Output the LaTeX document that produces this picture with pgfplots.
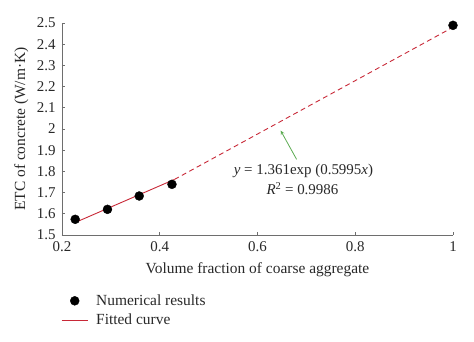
\documentclass[border=0pt]{standalone}
\usepackage{fontspec}
\setmainfont{Liberation Serif}
\usepackage{pgfplots}
\pgfplotsset{compat=1.18}
\definecolor{axgray}{RGB}{110,110,110}
\definecolor{txt}{RGB}{40,40,40}
\definecolor{fitred}{RGB}{200,40,55}
\definecolor{arrgreen}{RGB}{90,170,80}
\begin{document}
\begin{tikzpicture}
\begin{axis}[
  scale only axis, width=391bp, height=212bp,
  at={(0,0)}, anchor=south west,
  xmin=0.2, xmax=1, ymin=1.5, ymax=2.5,
  axis lines*=left,
  axis line style={axgray, line width=1pt},
  xtick={0.2,0.4,0.6,0.8,1},
  ytick={1.5,1.6,1.7,1.8,1.9,2,2.1,2.2,2.3,2.4,2.5},
  tick align=inside, major tick length=3pt,
  tick style={axgray, line width=0.8pt},
  /pgf/number format/assume math mode=true,
  tick label style={font=\fontsize{15}{17}\selectfont, text=txt},
  xticklabel style={yshift=-3pt},
  yticklabel style={xshift=-3pt},
  label style={font=\fontsize{15.5}{17}\selectfont, text=txt},
  xlabel={Volume fraction of coarse aggregate},
  ylabel={ETC of concrete (W/m·K)},
  xlabel style={at={(axis description cs:0.5,-0.165)}, anchor=center},
  ylabel style={at={(axis description cs:-0.104,0.5)}, anchor=center},
  legend style={draw=none, fill=none, at={(-0.01,-0.262)}, anchor=north west,
    font=\fontsize{15.5}{17}\selectfont, text=txt, row sep=3pt,
    legend cell align=left},
  clip=false,
]
\addplot[only marks, mark=*, mark size=4.5pt, black,
  legend image code/.code={\fill[black] (13bp,0bp) circle (4.5pt); \path (32bp,0bp);}] coordinates {
  (0.227,1.574) (0.293,1.621) (0.358,1.684) (0.425,1.739) (1.0,2.489)
};
\addlegendentry{Numerical results}
\addplot[fitred, line width=0.9pt,
  legend image code/.code={\draw[fitred, line width=0.9pt] (0bp,0bp) -- (26bp,0bp); \path (32bp,0bp);}] coordinates {
  (0.226,1.558) (0.43,1.762)
};
\addlegendentry{Fitted curve}
\addplot[fitred, line width=0.9pt, dash pattern=on 5pt off 3.5pt, forget plot] coordinates {
  (0.43,1.762) (1.0,2.480)
};
\draw[arrgreen, line width=0.8pt, -stealth] (axis cs:0.680,1.857) -- (axis cs:0.6475,1.992);
\node[font=\fontsize{15}{17}\selectfont, text=txt] at (axis cs:0.694,1.802)
  {\textit{y} = 1.361exp (0.5995\textit{x})};
\node[font=\fontsize{15}{17}\selectfont, text=txt] at (axis cs:0.692,1.717)
  {\textit{R}\textsuperscript{2} = 0.9986};
\end{axis}
\useasboundingbox (-62bp,-107bp) rectangle (412bp,235bp);
\end{tikzpicture}
\end{document}
